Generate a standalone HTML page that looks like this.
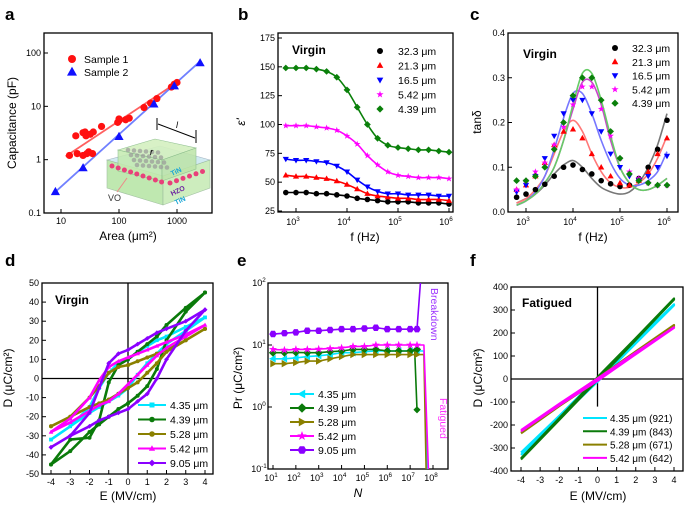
<!DOCTYPE html>
<html><head><meta charset="utf-8"><style>
html,body{margin:0;padding:0;background:#fff;}
svg{display:block;font-family:"Liberation Sans",Arial,sans-serif;}
</style></head><body>
<svg id="fig" width="685" height="505" viewBox="0 0 685 505" xmlns="http://www.w3.org/2000/svg"></svg>
<script>
// ---------- DATA ----------
// panel a
const aS1Area=[14,18,19,24,24,26,27,28,30,32,35,36,50,95,100,100,130,150,270,350,450,800,900,1000];
const aS1Cap=[1.2,2.8,1.3,1.2,3.2,3.3,2.8,1.3,1.4,3.0,1.3,3.3,4.2,5.0,5.8,5.4,5.6,6.0,9.5,11.5,14,23,26,28];
const aS1FitArea=[12,1100];
const aS1FitCap=[1.15,30];
const aS2Area=[8,24,100,400,900,2500];
const aS2Cap=[0.25,0.7,2.7,11,24,65];
const aS2FitArea=[8,2500];
const aS2FitCap=[0.25,70];
const aYTicks=[0.1,1,10,100];
const aYLabels=["0.1","1","10","100"];
const aXTicks=[10,100,1000];
const aXLabels=["10","100","1000"];
// panel b
const bLogF=[2.8,3.0,3.2,3.4,3.6,3.8,4.0,4.2,4.4,4.6,4.8,5.0,5.2,5.4,5.6,5.8,6.0];
const b32=[41,41,41,40,40,39,38,36,35,34,33,33,33,32,32,32,31];
const b21=[56,55,55,54,53,51,48,44,40,38,37,36,36,35,35,35,34];
const b16=[70,69,69,68,67,64,59,52,46,42,40,40,39,39,39,38,38];
const b5=[99,99,99,98,97,95,90,83,73,65,59,56,55,54,54,54,53];
const b4=[149,149,149,148,146,141,130,115,100,88,82,80,79,78,78,77,76];
const bYTicks=[25,50,75,100,125,150,175];
const bXTicks=[3,4,5,6];
// panel c
const cLogF=[2.8,3.0,3.2,3.4,3.6,3.8,4.0,4.2,4.4,4.6,4.8,5.0,5.2,5.4,5.6,5.8,6.0];
const c32=[0.033,0.04,0.05,0.062,0.08,0.1,0.105,0.095,0.085,0.07,0.063,0.057,0.06,0.075,0.1,0.14,0.205];
const c21=[0.05,0.06,0.08,0.11,0.15,0.18,0.185,0.165,0.13,0.1,0.08,0.065,0.06,0.07,0.09,0.13,0.165];
const c16=[0.045,0.06,0.08,0.12,0.17,0.22,0.25,0.25,0.22,0.18,0.13,0.1,0.08,0.07,0.08,0.1,0.125];
const c5=[0.05,0.07,0.09,0.11,0.15,0.19,0.24,0.28,0.28,0.23,0.17,0.12,0.09,0.075,0.065,0.06,0.06];
const c4=[0.07,0.07,0.08,0.1,0.14,0.2,0.26,0.3,0.3,0.25,0.18,0.12,0.085,0.07,0.065,0.06,0.06];
const cFit32=[0.02,0.03,0.04,0.06,0.085,0.105,0.115,0.1,0.075,0.055,0.045,0.04,0.045,0.065,0.1,0.15,0.22];
const cFit21=[0.02,0.03,0.05,0.08,0.13,0.18,0.205,0.18,0.13,0.09,0.065,0.055,0.055,0.065,0.085,0.12,0.17];
const cFit16=[0.015,0.025,0.045,0.08,0.14,0.21,0.265,0.265,0.22,0.16,0.11,0.075,0.06,0.06,0.07,0.09,0.135];
const cFit5=[0.015,0.025,0.04,0.065,0.1,0.16,0.23,0.29,0.29,0.24,0.16,0.1,0.065,0.05,0.05,0.06,0.075];
const cFit4=[0.015,0.025,0.04,0.065,0.1,0.16,0.24,0.31,0.31,0.25,0.17,0.1,0.065,0.05,0.05,0.06,0.075];
const cYTicks=[0,0.1,0.2,0.3,0.4];
const cYLabels=["0.0","0.1","0.2","0.3","0.4"];
const cXTicks=[3,4,5,6];
// panel d
const dE=[-4,-3,-2,-1.5,-1,-0.5,0,0.5,1,1.5,2,3,4];
const d435Lo=[-32,-25,-18,-15,-12,-9,-5,2,8,13,18,25,32];
const d435Up=[-32,-25,-15,-5,3,8,10,14,17,20,22,27,32];
const d439Lo=[-45,-38,-28,-24,-20,-16,-13,-9,-4,5,20,35,45];
const d439Up=[-45,-32,-31,-22,-2,7,10,14,18,22,28,37,45];
const d528Lo=[-25,-20,-15,-13,-11,-8,-5,-2,3,8,14,20,26];
const d528Up=[-25,-20,-10,-4,3,6,7,9,11,13,15,20,26];
const d542Lo=[-28,-23,-17,-14,-12,-8,-3,2,7,12,16,22,28];
const d542Up=[-28,-21,-10,-1,6,9,11,13,15,17,19,23,28];
const d905Lo=[-36,-30,-25,-22,-20,-18,-16,-12,-8,0,10,25,36];
const d905Up=[-36,-30,-18,-5,8,13,15,18,21,24,26,30,36];
const dYTicks=[-50,-40,-30,-20,-10,0,10,20,30,40,50];
const dXTicks=[-4,-3,-2,-1,0,1,2,3,4];
// panel e
const eLogN=[1,1.5,2,2.5,3,3.5,4,4.5,5,5.5,6,6.5,7,7.3];
const e905=[15,15.5,16,17,17,17.5,18,18,18.5,19,18,18,18,18];
const e542=[8.5,8.3,8.5,8.5,8.6,8.8,9,9.5,9.5,10,10,10,10,10];
const e439=[7.5,7.5,7.6,7.5,7.5,7.8,8,8.5,8.5,8.5,8,8,8,8.5];
const e435=[6,6,6.2,6.5,6.7,7,7.5,7.5,7.8,8,8,8,8,8];
const e528=[5,5,5.2,5.5,5.5,6,6.5,7,7,7,7,7,7,7];
const eYTicks=[-1,0,1,2];
const eXTicks=[1,2,3,4,5,6,7,8];
// panel f
const fE=[-4,-2,0,2,4];
const f435Up=[-320,-160,5,165,325];
const f435Lo=[-330,-170,-12,155,320];
const f439Up=[-345,-170,8,178,350];
const f439Lo=[-350,-178,-5,170,345];
const f528Up=[-230,-112,3,120,235];
const f528Lo=[-236,-118,-6,112,230];
const f542Up=[-222,-108,2,115,225];
const f542Lo=[-228,-114,-8,108,222];
const fYTicks=[-400,-300,-200,-100,0,100,200,300,400];
const fXTicks=[-4,-3,-2,-1,0,1,2,3,4];

// ---------- HELPERS ----------
const NS='http://www.w3.org/2000/svg';
const svg=document.getElementById('fig');
function mk(tag,attrs,name,parent){
  const el=document.createElementNS(NS,tag);
  for(const k in attrs)el.setAttribute(k,attrs[k]);
  
  
  (parent||svg).appendChild(el);
  return el;
}
function txt(x,y,s,o,name,parent){
  o=o||{};
  const el=mk('text',{x:x,y:y,'font-size':o.fs||9,'text-anchor':o.anchor||'start',fill:o.fill||'#000','font-weight':o.fw||'normal','font-style':o.fst||'normal'},name,parent);
  if(o.rot)el.setAttribute('transform','rotate('+o.rot+' '+x+' '+y+')');
  el.textContent=s;
  return el;
}
function powTxt(x,y,base,exp,o,name,parent){
  const el=txt(x,y,base,o,name,parent);
  const t=document.createElementNS(NS,'tspan');
  t.setAttribute('dy','-4');t.setAttribute('font-size',(o.fs||9)*0.7);
  t.textContent=exp;el.appendChild(t);return el;
}
function logS(d0,d1,p0,p1){return v=>p0+(Math.log10(v)-d0)/(d1-d0)*(p1-p0);}
function linS(d0,d1,p0,p1){return v=>p0+(v-d0)/(d1-d0)*(p1-p0);}
function box(g,x0,x1,y0,y1,name){mk('rect',{x:x0,y:y0,width:x1-x0,height:y1-y0,fill:'none',stroke:'#000','stroke-width':1.3},name,g);}
function xtick(g,x,y1,name){mk('line',{x1:x,x2:x,y1:y1,y2:y1-4,stroke:'#000','stroke-width':1},name,g);}
function ytick(g,y,x0,name){mk('line',{x1:x0,x2:x0+4,y1:y,y2:y,stroke:'#000','stroke-width':1},name,g);}
function poly(g,pts,color,w,name,op){return mk('polyline',{points:pts.map(p=>p[0].toFixed(1)+','+p[1].toFixed(1)).join(' '),fill:'none',stroke:color,'stroke-width':w,'stroke-opacity':op||1,'stroke-linejoin':'round'},name,g);}
function smooth(g,pts,color,w,name){
  let d='M'+pts[0][0].toFixed(1)+','+pts[0][1].toFixed(1);
  for(let i=0;i<pts.length-1;i++){
    const p0=pts[Math.max(0,i-1)],p1=pts[i],p2=pts[i+1],p3=pts[Math.min(pts.length-1,i+2)];
    const c1=[p1[0]+(p2[0]-p0[0])/6,p1[1]+(p2[1]-p0[1])/6],c2=[p2[0]-(p3[0]-p1[0])/6,p2[1]-(p3[1]-p1[1])/6];
    d+=' C'+c1[0].toFixed(1)+','+c1[1].toFixed(1)+' '+c2[0].toFixed(1)+','+c2[1].toFixed(1)+' '+p2[0].toFixed(1)+','+p2[1].toFixed(1);
  }
  return mk('path',{d:d,fill:'none',stroke:color,'stroke-width':w},name,g);
}
function marker(g,shape,x,y,s,color,name){
  let d;
  if(shape==='circle'){return mk('circle',{cx:x,cy:y,r:s,fill:color},name,g);}
  if(shape==='up')d=[[0,-1.15],[1.1,0.8],[-1.1,0.8]];
  else if(shape==='down')d=[[0,1.15],[1.1,-0.8],[-1.1,-0.8]];
  else if(shape==='left')d=[[-1.15,0],[0.8,-1.1],[0.8,1.1]];
  else if(shape==='right')d=[[1.15,0],[-0.8,-1.1],[-0.8,1.1]];
  else if(shape==='diamond')d=[[0,-1.2],[1.2,0],[0,1.2],[-1.2,0]];
  else if(shape==='square')d=[[-0.9,-0.9],[0.9,-0.9],[0.9,0.9],[-0.9,0.9]];
  else if(shape==='star'){d=[];for(let i=0;i<10;i++){const r=i%2?0.5:1.25,a=-Math.PI/2+i*Math.PI/5;d.push([r*Math.cos(a),r*Math.sin(a)]);}}
  else {d=[];for(let i=0;i<6;i++){const a=i*Math.PI/3;d.push([1.1*Math.cos(a),1.1*Math.sin(a)]);}}
  return mk('polygon',{points:d.map(p=>(x+p[0]*s).toFixed(1)+','+(y+p[1]*s).toFixed(1)).join(' '),fill:color},name,g);
}
function panelLetter(x,y,s){txt(x,y,s,{fs:17,fw:'bold'},'panel-label-'+s);}

// ---------- PANEL A ----------
(function(){
  const g=mk('g',{},'panel-a');
  const X=logS(1,3,61,177),Y=logS(-1,2,213,53);
  panelLetter(5,20,'a');
  box(g,44,212,33,213,'panel-a-plot-area');
  aYTicks.forEach((v,i)=>{ytick(g,Y(v),44,'a-y-tick');txt(41,Y(v)+3,aYLabels[i],{anchor:'end'},'a-y-tick-label',g);});
  aXTicks.forEach((v,i)=>{xtick(g,X(v),213,'a-x-tick');txt(X(v),224,aXLabels[i],{anchor:'middle'},'a-x-tick-label',g);});
  txt(128,240,'Area (μm²)',{fs:12,anchor:'middle'},'a-x-axis-title',g);
  txt(16,123,'Capacitance (pF)',{fs:12,anchor:'middle',rot:-90},'a-y-axis-title',g);
  // fits
  poly(g,aS1FitArea.map((v,i)=>[X(v),Y(aS1FitCap[i])]),'#ff6060',1.8,'a-sample1-fit-line');
  poly(g,aS2FitArea.map((v,i)=>[X(v),Y(aS2FitCap[i])]),'#7080ff',1.8,'a-sample2-fit-line');
  aS1Area.forEach((v,i)=>marker(g,'circle',X(v),Y(aS1Cap[i]),3.6,'#ff1010','a-sample1-point'));
  aS2Area.forEach((v,i)=>marker(g,'up',X(v),Y(aS2Cap[i]),4.2,'#1010ff','a-sample2-point'));
  // inset schematic
  const ins=mk('g',{},'a-inset-schematic',g);
  mk('polygon',{points:'107,160 160,146 210,160 163,176',fill:'#cde8f0',stroke:'#9ab','stroke-width':0.6,opacity:0.9},'inset-hzo-top',ins);
  mk('polygon',{points:'107,160 163,176 163,205 107,188',fill:'#b9e6a8',stroke:'#9b9','stroke-width':0.6,opacity:0.9},'inset-bottom-front',ins);
  mk('polygon',{points:'163,176 210,160 210,188 163,205',fill:'#c8ecb8',stroke:'#9b9','stroke-width':0.6,opacity:0.9},'inset-bottom-side',ins);
  mk('polygon',{points:'118,150 155,139 196,148 162,160',fill:'#d4f0c0',stroke:'#8b8','stroke-width':0.6,opacity:0.9},'inset-top-electrode-top',ins);
  mk('polygon',{points:'118,150 162,160 162,181 118,171',fill:'#c4eab0',stroke:'#8b8','stroke-width':0.6,opacity:0.85},'inset-top-front',ins);
  mk('polygon',{points:'162,160 196,148 196,169 162,181',fill:'#bde4a8',stroke:'#8b8','stroke-width':0.6,opacity:0.85},'inset-top-side',ins);
  for(let r=0;r<4;r++)for(let c=0;c<6;c++){mk('circle',{cx:128+c*6+r*3,cy:150+r*5+c*0.5,r:2.3,fill:'#999',opacity:0.7},'inset-grain',ins);}
  for(let i=0;i<9;i++){mk('circle',{cx:112+i*6.2,cy:166+i*2,r:2.5,fill:'#e8407a'},'inset-vacancy-dot',ins);}
  for(let i=0;i<6;i++){mk('circle',{cx:170+i*6.5,cy:183-i*2.3,r:2.5,fill:'#e8407a'},'inset-vacancy-dot',ins);}
  mk('line',{x1:157,x2:157,y1:118,y2:130,stroke:'#000','stroke-width':1},'inset-l-mark',ins);
  mk('line',{x1:196,x2:196,y1:130,y2:143,stroke:'#000','stroke-width':1},'inset-l-mark',ins);
  mk('line',{x1:158,x2:195,y1:124,y2:138,stroke:'#000','stroke-width':1},'inset-l-arrow',ins);
  txt(176,128,'l',{fs:9,fst:'italic'},'inset-l-label',ins);
  txt(150,155,'r',{fs:9,fst:'italic'},'inset-r0-label',ins);
  txt(172,176,'TiN',{fs:7,fill:'#1aa6d6',fw:'bold',rot:-25},'inset-tin-top-label',ins);
  txt(172,196,'HZO',{fs:7,fill:'#6a1fa0',fw:'bold',rot:-25},'inset-hzo-label',ins);
  txt(176,205,'TiN',{fs:7,fill:'#1aa6d6',fw:'bold',rot:-25},'inset-tin-bottom-label',ins);
  txt(108,201,'VO',{fs:9,fill:'#333'},'inset-vacancy-label',ins);
  mk('line',{x1:117,x2:127,y1:192,y2:178,stroke:'#e88','stroke-width':1},'inset-vacancy-arrow',ins);
  marker(g,'circle',72,59,4,'#ff1010','a-legend-marker-sample1');
  txt(84,63,'Sample 1',{fs:10.5},'a-legend-label-sample1',g);
  marker(g,'up',72,72,4.5,'#1010ff','a-legend-marker-sample2');
  txt(84,76,'Sample 2',{fs:10.5},'a-legend-label-sample2',g);
})();

// ---------- PANEL B ----------
(function(){
  const g=mk('g',{},'panel-b');
  const X=v=>296+(v-3)*51,Y=linS(25,175,211,38);
  panelLetter(238,20,'b');
  box(g,278,453,33,212,'panel-b-plot-area');
  bYTicks.forEach(v=>{ytick(g,Y(v),278,'b-y-tick');txt(275,Y(v)+3,String(v),{anchor:'end'},'b-y-tick-label',g);});
  bXTicks.forEach(v=>{xtick(g,X(v),212,'b-x-tick');powTxt(X(v)-3,225,'10',String(v),{anchor:'middle'},'b-x-tick-label',g);});
  txt(365,241,'f (Hz)',{fs:12,anchor:'middle'},'b-x-axis-title',g);
  txt(245,122,"ε'",{fs:12,anchor:'middle',rot:-90,fst:'italic'},'b-y-axis-title',g);
  const ser=[[b32,'#000','circle','32.3 μm'],[b21,'#f00','up','21.3 μm'],[b16,'#00f','down','16.5 μm'],[b5,'#f0f','star','5.42 μm'],[b4,'#0a800a','diamond','4.39 μm']];
  ser.forEach((s,k)=>{
    smooth(g,bLogF.map((f,i)=>[X(f),Y(s[0][i])]),s[1],1.6,'b-fit-line-'+k);
    bLogF.forEach((f,i)=>marker(g,s[2],X(f),Y(s[0][i]),2.8,s[1],'b-point-'+k));
    marker(g,s[2],380,51+k*14.5,3,s[1],'b-legend-marker');
    txt(398,55+k*14.5,s[3],{fs:10.5},'b-legend-label',g);
  });
  txt(292,54,'Virgin',{fs:12,fw:'bold'},'b-virgin-label',g);
})();

// ---------- PANEL C ----------
(function(){
  const g=mk('g',{},'panel-c');
  const X=v=>526+(v-3)*47,Y=linS(0,0.4,212,33);
  panelLetter(470,20,'c');
  box(g,508,678,33,212,'panel-c-plot-area');
  cYTicks.forEach((v,i)=>{ytick(g,Y(v),508,'c-y-tick');txt(505,Y(v)+3,cYLabels[i],{anchor:'end'},'c-y-tick-label',g);});
  cXTicks.forEach(v=>{xtick(g,X(v),212,'c-x-tick');powTxt(X(v)-3,225,'10',String(v),{anchor:'middle'},'c-x-tick-label',g);});
  txt(593,241,'f (Hz)',{fs:12,anchor:'middle'},'c-x-axis-title',g);
  txt(481,122,'tanδ',{fs:12,anchor:'middle',rot:-90},'c-y-axis-title',g);
  const ser=[[c32,cFit32,'#000','#777','circle','32.3 μm'],[c21,cFit21,'#f00','#f77','up','21.3 μm'],[c16,cFit16,'#00f','#77f','down','16.5 μm'],[c5,cFit5,'#f0f','#c4c','star','5.42 μm'],[c4,cFit4,'#0a800a','#6c6','diamond','4.39 μm']];
  ser.forEach((s,k)=>{
    smooth(g,cLogF.map((f,i)=>[X(f),Y(s[1][i])]),s[3],1.6,'c-fit-line-'+k);
  });
  ser.forEach((s,k)=>{
    cLogF.forEach((f,i)=>marker(g,s[4],X(f),Y(s[0][i]),2.8,s[2],'c-point-'+k));
    marker(g,s[4],615,48+k*13.8,3,s[2],'c-legend-marker');
    txt(632,52+k*13.8,s[5],{fs:10.5},'c-legend-label',g);
  });
  txt(523,58,'Virgin',{fs:12,fw:'bold'},'c-virgin-label',g);
})();

// ---------- PANEL D ----------
(function(){
  const g=mk('g',{},'panel-d');
  const X=linS(-4,4,51,205),Y=linS(-50,50,474,283);
  panelLetter(5,266,'d');
  box(g,42,213,283,474,'panel-d-plot-area');
  mk('line',{x1:X(0),x2:X(0),y1:283,y2:474,stroke:'#000','stroke-width':1.3},'d-zero-vline',g);
  mk('line',{x1:42,x2:213,y1:Y(0),y2:Y(0),stroke:'#000','stroke-width':1.3},'d-zero-hline',g);
  dYTicks.forEach(v=>{ytick(g,Y(v),42,'d-y-tick');txt(39,Y(v)+3,String(v),{anchor:'end'},'d-y-tick-label',g);});
  dXTicks.forEach(v=>{xtick(g,X(v),474,'d-x-tick');txt(X(v),485,String(v),{anchor:'middle'},'d-x-tick-label',g);});
  txt(128,500,'E (MV/cm)',{fs:12,anchor:'middle'},'d-x-axis-title',g);
  txt(12,378,'D (μC/cm²)',{fs:12,anchor:'middle',rot:-90},'d-y-axis-title',g);
  const ser=[[d435Lo,d435Up,'#00e5ff','square','4.35 μm'],[d439Lo,d439Up,'#0a7a0a','circle','4.39 μm'],[d528Lo,d528Up,'#8a8000','circle','5.28 μm'],[d542Lo,d542Up,'#ff00ff','up','5.42 μm'],[d905Lo,d905Up,'#8a00ff','diamond','9.05 μm']];
  ser.forEach((s,k)=>{
    const pts=dE.map((e,i)=>[X(e),Y(s[0][i])]).concat(dE.map((e,i)=>[X(e),Y(s[1][i])]).reverse());
    poly(g,pts,s[2],2.6,'d-loop-'+k);
    pts.forEach(p=>marker(g,s[3],p[0],p[1],2,s[2],'d-point-'+k));
  });
  ser.forEach((s,k)=>{
    const y=405+k*14.5;
    mk('line',{x1:138,x2:166,y1:y,y2:y,stroke:s[2],'stroke-width':2},'d-legend-line',g);
    marker(g,s[3],152,y,2.8,s[2],'d-legend-marker');
    txt(170,y+4,s[4],{fs:10.5},'d-legend-label',g);
  });
  txt(55,304,'Virgin',{fs:12,fw:'bold'},'d-virgin-label',g);
})();

// ---------- PANEL E ----------
(function(){
  const g=mk('g',{},'panel-e');
  const X=v=>273+(v-1)*(160/7),Y=logS(-1,2,469,283);
  panelLetter(237,266,'e');
  box(g,268,448,283,469,'panel-e-plot-area');
  eYTicks.forEach(v=>{ytick(g,Y(Math.pow(10,v)),268,'e-y-tick');powTxt(259,Y(Math.pow(10,v))+3,'10',String(v),{anchor:'middle'},'e-y-tick-label',g);});
  eXTicks.forEach(v=>{xtick(g,X(v),469,'e-x-tick');powTxt(X(v)-2,481,'10',String(v),{anchor:'middle'},'e-x-tick-label',g);});
  txt(358,497,'N',{fs:12,anchor:'middle',fst:'italic'},'e-x-axis-title',g);
  txt(242,378,'Pr (μC/cm²)',{fs:12,anchor:'middle',rot:-90},'e-y-axis-title',g);
  const ser=[[e435,'#00e5ff','left','4.35 μm',[[7.6,8],[7.75,0.1]]],[e439,'#0a7a0a','diamond','4.39 μm',[[7.2,8],[7.3,0.9]]],[e528,'#8a8000','right','5.28 μm',[[7.6,7],[7.7,0.1]]],[e542,'#ff00ff','star','5.42 μm',[[7.6,10],[7.8,0.1]]],[e905,'#8a00ff','hex','9.05 μm',[[7.45,100]]]];
  ser.forEach((s,k)=>{
    const pts=eLogN.map((n,i)=>[X(n),Y(s[0][i])]).concat(s[4].map(p=>[X(p[0]),Y(p[1])]));
    poly(g,pts,s[1],1.6,'e-line-'+k);
    eLogN.forEach((n,i)=>marker(g,s[2],X(n),Y(s[0][i]),3.4,s[1],'e-point-'+k));
  });
  marker(g,'diamond',X(7.3),Y(0.9),3,'#0a7a0a','e-point-fatigued');
  ser.forEach((s,k)=>{
    const y=394+k*14;
    mk('line',{x1:290,x2:314,y1:y,y2:y,stroke:s[1],'stroke-width':2},'e-legend-line',g);
    marker(g,s[2],302,y,4,s[1],'e-legend-marker');
    txt(318,y+4,s[3],{fs:10.5},'e-legend-label',g);
  });
  txt(431,288,'Breakdown',{fs:10.5,fill:'#9b30ff',rot:90},'e-breakdown-label',g);
  txt(440,398,'Fatigued',{fs:10.5,fill:'#ff30ff',rot:90},'e-fatigued-label',g);
})();

// ---------- PANEL F ----------
(function(){
  const g=mk('g',{},'panel-f');
  const X=linS(-4,4,521,674),Y=linS(-400,400,471,287);
  panelLetter(470,266,'f');
  box(g,511,683,287,471,'panel-f-plot-area');
  mk('line',{x1:X(0),x2:X(0),y1:287,y2:Y(-120),stroke:'#000','stroke-width':1.3},'f-zero-vline',g);
  mk('line',{x1:511,x2:683,y1:Y(0),y2:Y(0),stroke:'#000','stroke-width':1.3},'f-zero-hline',g);
  fYTicks.forEach(v=>{ytick(g,Y(v),511,'f-y-tick');txt(508,Y(v)+3,String(v),{anchor:'end'},'f-y-tick-label',g);});
  fXTicks.forEach(v=>{xtick(g,X(v),471,'f-x-tick');txt(X(v),483,String(v),{anchor:'middle'},'f-x-tick-label',g);});
  txt(598,500,'E (MV/cm)',{fs:12,anchor:'middle'},'f-x-axis-title',g);
  txt(482,378,'D (μC/cm²)',{fs:12,anchor:'middle',rot:-90},'f-y-axis-title',g);
  const ser=[[f435Lo,f435Up,'#00e5ff','4.35 μm (921)'],[f439Lo,f439Up,'#0a7a0a','4.39 μm (843)'],[f528Lo,f528Up,'#8a8000','5.28 μm (671)'],[f542Lo,f542Up,'#ff00ff','5.42 μm (642)']];
  ser.forEach((s,k)=>{
    const pts=fE.map((e,i)=>[X(e),Y(s[0][i])]).concat(fE.map((e,i)=>[X(e),Y(s[1][i])]).reverse());
    poly(g,pts,s[2],2.2,'f-loop-'+k);
  });
  ser.forEach((s,k)=>{
    const y=418+k*13.3;
    mk('line',{x1:583,x2:607,y1:y,y2:y,stroke:s[2],'stroke-width':2},'f-legend-line',g);
    txt(610,y+4,s[3],{fs:10},'f-legend-label',g);
  });
  txt(522,307,'Fatigued',{fs:12,fw:'bold'},'f-fatigued-label',g);
})();
</script>
</body></html>
